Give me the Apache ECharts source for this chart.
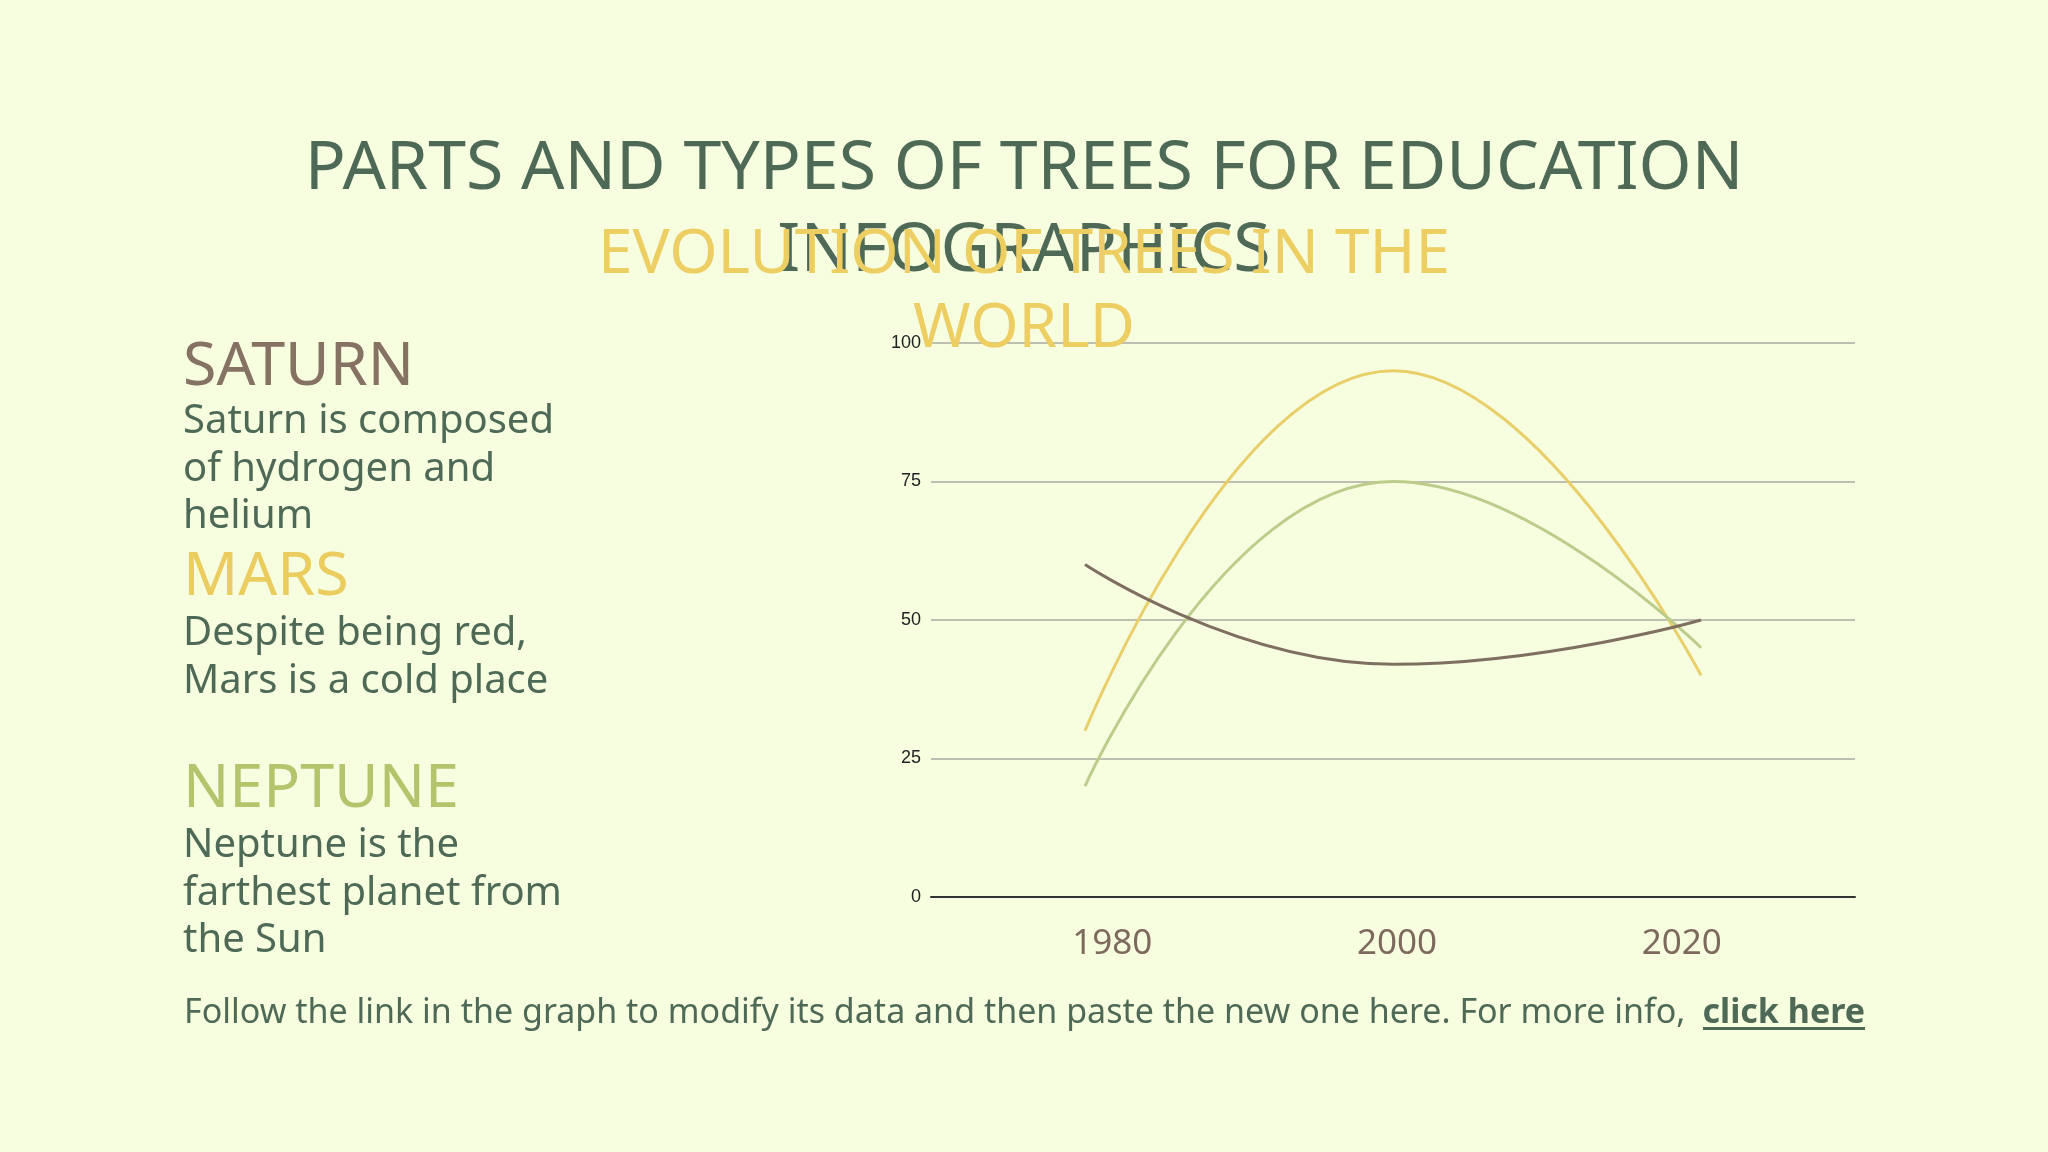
<!DOCTYPE html>
<html>
<head>
<meta charset="utf-8">
<script src="https://cdn.jsdelivr.net/npm/echarts@6/dist/echarts.min.js"></script>
<style>
  html, body { margin: 0; padding: 0; background: #f7fee0; }
  #chart { width: 2048px; height: 1152px; }
</style>
</head>
<body>
<div id="chart"></div>
<script>
// データ
const years = ['1980', '2000', '2020'];
const saturn = [60, 42, 50];
const mars = [30, 95, 40];
const neptune = [20, 75, 45];
const yTicks = [0, 25, 50, 75, 100];

const green = '#4e6a57';
const font = '"Noto Sans", "Open Sans", sans-serif';

const chart = echarts.init(document.getElementById('chart'));

let option = {
  backgroundColor: '#f7fee0',
  textStyle: { fontFamily: font },
  title: [
    {
      text: 'PARTS AND TYPES OF TREES FOR EDUCATION\nINFOGRAPHICS',
      left: 'center',
      top: 124,
      textStyle: { color: green, fontSize: 68, fontWeight: 'normal', lineHeight: 82, fontFamily: font }
    },
    {
      text: 'EVOLUTION OF TREES IN THE\nWORLD',
      left: 'center',
      top: 213,
      textStyle: { color: '#ecce62', fontSize: 62, fontWeight: 'normal', lineHeight: 74, fontFamily: font }
    }
  ],
  grid: [
    { left: 931, right: 193, top: 343, bottom: 255 },
    // 年ラベル用（元画像のラベル位置に合わせる）
    { left: 970, right: 224, top: 343, bottom: 255 }
  ],
  xAxis: [
    {
      type: 'category',
      data: years,
      boundaryGap: true,
      axisLine: { lineStyle: { color: '#333', width: 2 } },
      axisTick: { show: false },
      axisLabel: { show: false }
    },
    {
      type: 'category',
      gridIndex: 1,
      data: years,
      boundaryGap: true,
      axisLine: { show: false },
      axisTick: { show: false },
      axisLabel: { color: '#7d6a5c', fontSize: 35, margin: 30, fontFamily: font }
    }
  ],
  yAxis: [
    {
      type: 'value',
      min: yTicks[0],
      max: yTicks[yTicks.length - 1],
      interval: 25,
      axisLine: { show: false },
      axisTick: { show: false },
      axisLabel: { color: '#222', fontSize: 18, margin: 10, fontFamily: '"Liberation Sans", Arial, sans-serif' },
      splitLine: { lineStyle: { color: '#bdbfb3', width: 2 } }
    },
    {
      type: 'value',
      gridIndex: 1,
      show: false,
      min: 0,
      max: 100
    }
  ],
  series: [
    {
      name: 'Saturn',
      type: 'line',
      data: saturn,
      smooth: 0.5,
      showSymbol: false,
      lineStyle: { color: '#7f6f60', width: 3 },
      z: 3
    },
    {
      name: 'Mars',
      type: 'line',
      data: mars,
      smooth: 0.5,
      showSymbol: false,
      lineStyle: { color: '#e9cf6a', width: 3 },
      z: 2
    },
    {
      name: 'Neptune',
      type: 'line',
      data: neptune,
      smooth: 0.5,
      showSymbol: false,
      lineStyle: { color: '#bccd8b', width: 3 },
      z: 2
    }
  ],
  graphic: [
    { type: 'text', left: 183, top: 337, style: { text: 'SATURN', fill: '#867262', font: '61px ' + font } },
    { type: 'text', left: 183, top: 398, style: { text: 'Saturn is composed\nof hydrogen and\nhelium', fill: green, font: '40px ' + font, lineHeight: 47.5 } },
    { type: 'text', left: 183, top: 547, style: { text: 'MARS', fill: '#ebcc5f', font: '61px ' + font } },
    { type: 'text', left: 183, top: 610, style: { text: 'Despite being red,\nMars is a cold place', fill: green, font: '40px ' + font, lineHeight: 47.5 } },
    { type: 'text', left: 183, top: 759, style: { text: 'NEPTUNE', fill: '#b4c46c', font: '61px ' + font } },
    { type: 'text', left: 183, top: 822, style: { text: 'Neptune is the\nfarthest planet from\nthe Sun', fill: green, font: '40px ' + font, lineHeight: 47.5 } },
    { type: 'text', left: 184, top: 996, style: { text: 'Follow the link in the graph to modify its data and then paste the new one here. For more info,', fill: green, font: '34px ' + font } },
    { type: 'text', right: 183, top: 996, style: { text: 'click here', fill: green, font: 'bold 34px ' + font } },
    { type: 'rect', right: 183, top: 1027, shape: { width: 162, height: 3 }, style: { fill: green } }
  ]
};

chart.setOption(option);
</script>
</body>
</html>
